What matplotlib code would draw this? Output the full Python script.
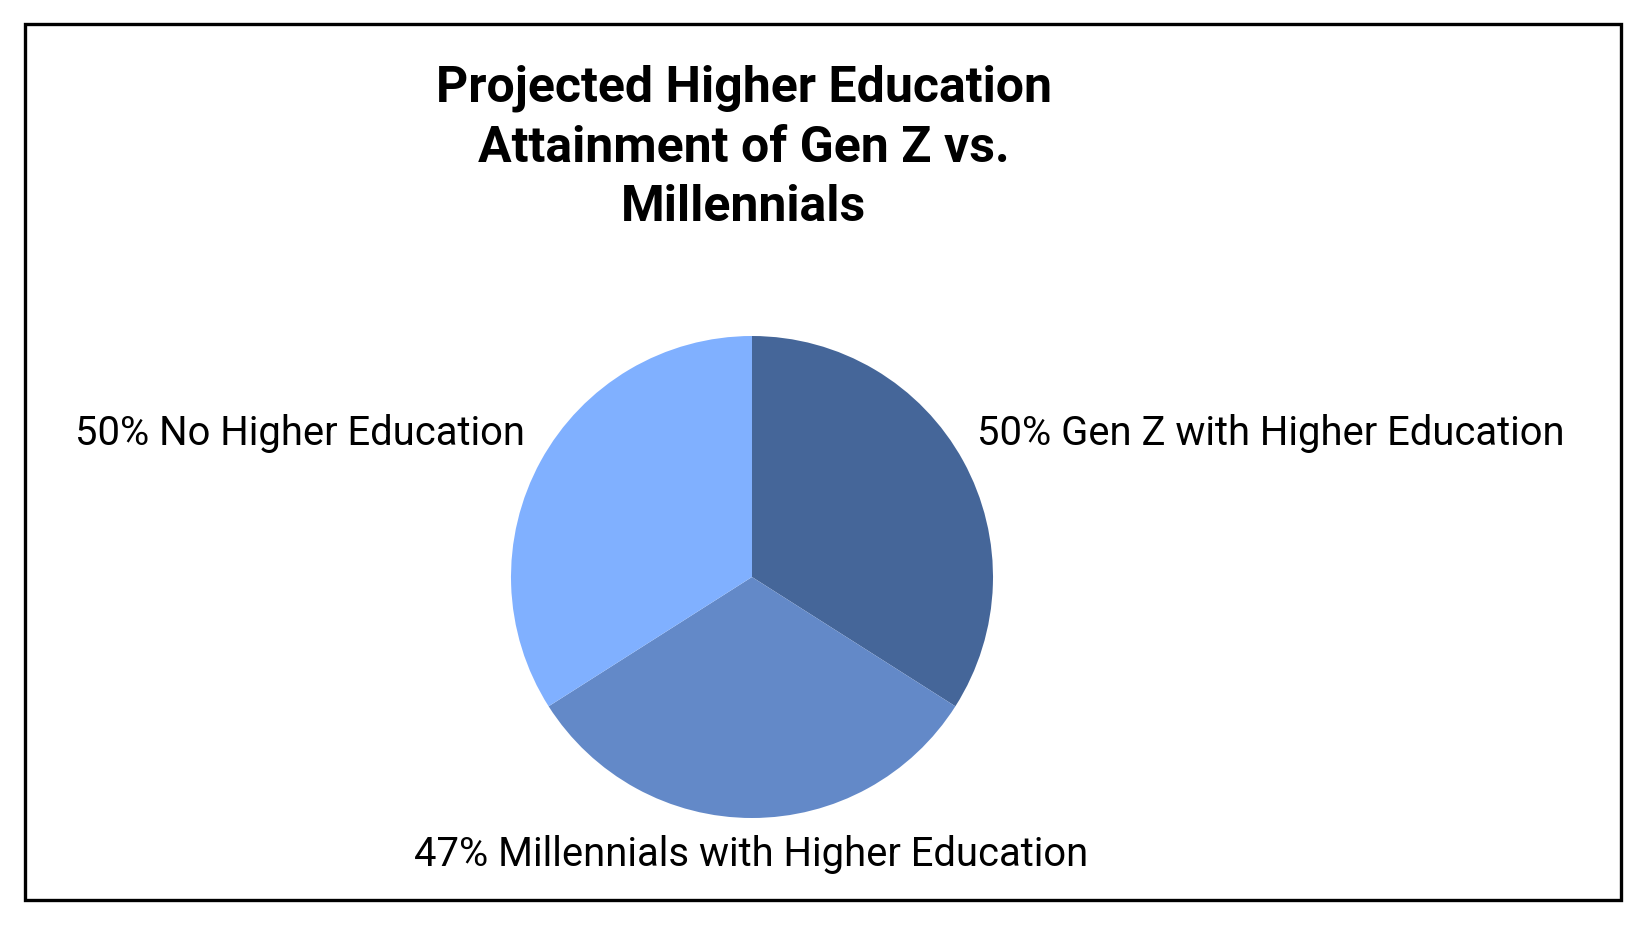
import matplotlib.pyplot as plt
from matplotlib.patches import Rectangle

# data
names = ['Gen Z with Higher Education', 'Millennials with Higher Education', 'No Higher Education']
shares = [50, 47, 50]
colors = ['#456699', '#6389C8', '#80B0FF']
title = 'Projected Higher Education\nAttainment of Gen Z vs.\nMillennials'

W, H = 1646, 928
fig = plt.figure(figsize=(W / 100, H / 100), dpi=100)

# pie centred at (752, 578) px, radius 240 px
cx, cy, r = 752, 578, 241
ax = fig.add_axes([(cx - r) / W, (H - cy - r) / H, 2 * r / W, 2 * r / H])
ax.pie(shares, colors=colors, startangle=90, counterclock=False, radius=1,
       wedgeprops=dict(linewidth=0))
ax.set_xlim(-1, 1)
ax.set_ylim(-1, 1)
ax.set_aspect('equal')
ax.axis('off')

labels = ['%d%% %s' % (v, n) for v, n in zip(shares, names)]
# label anchors in pixels (x, y, ha)
spots = [(977, 434, 'left'), (751, 855, 'center'), (525, 434, 'right')]
for lab, (x, y, ha) in zip(labels, spots):
    fig.text(x / W, 1 - y / H, lab, ha=ha, va='center', fontsize=28.8,
             family='Roboto', color='black')

fig.text(744 / W, 1 - 148 / H, title, ha='center', va='center',
         multialignment='center', fontsize=36, fontweight='bold',
         family='Roboto', linespacing=1.34)

# frame
fig.patches.append(Rectangle((25 / W, 1 - 901 / H), (1621 - 25) / W, (901 - 25) / H,
                             transform=fig.transFigure, fill=False,
                             edgecolor='black', linewidth=2.4))

fig.savefig('out.png', dpi=100)
